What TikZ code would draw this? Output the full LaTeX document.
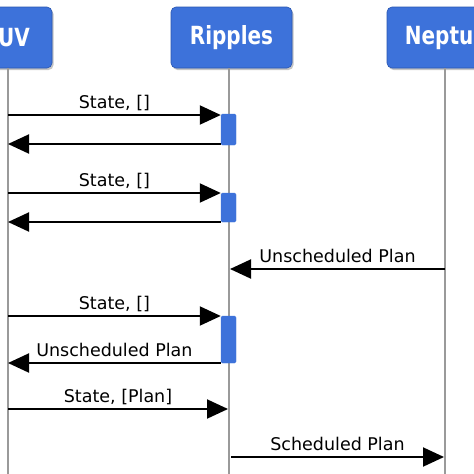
\documentclass[tikz,border=0pt]{standalone}
\usepackage{fontspec}
\setmainfont{DejaVu Sans}
\usetikzlibrary{arrows.meta,shadows}
\definecolor{hdr}{HTML}{3D72DA}
\definecolor{hdredge}{HTML}{2A56B0}
\definecolor{life}{HTML}{9A9A9A}
\tikzset{
 header/.style={draw=hdredge, line width=0.6pt, fill=hdr, rounded corners=5pt, text=white,
   font=\fontsize{20}{24}\selectfont\bfseries, minimum height=61pt, inner sep=0pt,
   drop shadow={shadow xshift=1.5pt,shadow yshift=-2pt,opacity=0.45}},
 htext/.style={text=white, font=\fontsize{20}{24}\selectfont\bfseries, inner sep=0pt},
 lifeline/.style={draw=life, line width=1.4pt},
 act/.style={fill=hdr, draw=hdr, rounded corners=1.5pt, minimum width=15pt, inner sep=0pt},
 msg/.style={draw=black, line width=2pt, -{Triangle[length=21pt,width=19pt]}},
 lbl/.style={font=\fontsize{17.5}{20}\selectfont, anchor=base, yshift=6.5pt, inner sep=0pt, text=black},
}
\begin{document}
\begin{tikzpicture}[x=1pt,y=-1pt]
\clip (0,0) rectangle (474,474);
\fill[white] (0,0) rectangle (474,474);
% headers
\node[header, minimum width=76pt] (uv) at (14,37.5) {\scalebox{1}[1.25]{UV}};
\node[header, minimum width=121pt] (rip) at (231.5,37.5) {\scalebox{1}[1.25]{Ripples}};
\node[header, minimum width=132pt] (nep) at (453,37.5) {\scalebox{1}[1.25]{Neptune}};
% lifelines
\coordinate (uvEnd) at (8,474);
\coordinate (ripEnd) at (229,474);
\coordinate (nepEnd) at (445,474);
\draw[lifeline] (uvEnd |- uv.south) -- (uvEnd);
\draw[lifeline] (ripEnd |- rip.south) -- (ripEnd);
\draw[lifeline] (nepEnd |- nep.south) -- (nepEnd);
% activations
\node[act, minimum height=31pt] (a1) at (228.5,129.5) {};
\node[act, minimum height=29pt] (a2) at (228.5,207.5) {};
\node[act, minimum height=47pt] (a3) at (228.5,339.5) {};
% message anchor points
\coordinate (p1) at (8,115);
\coordinate (p2) at (8,144);
\coordinate (p3) at (8,193);
\coordinate (p4) at (8,222);
\coordinate (p5) at (445,269);
\coordinate (q5) at (230,269);
\coordinate (p6) at (8,316);
\coordinate (p7) at (8,363);
\coordinate (p8) at (8,409);
\coordinate (q8) at (228,409);
\coordinate (p9) at (231,457);
\coordinate (q9) at (444,457);
% messages
\draw[msg] (p1) -- node[lbl]{State, []} (p1 -| a1.west);
\draw[msg] (p2 -| a1.west) -- (p2);
\draw[msg] (p3) -- node[lbl]{State, []} (p3 -| a2.west);
\draw[msg] (p4 -| a2.west) -- (p4);
\draw[msg] (p5) -- node[lbl]{Unscheduled Plan} (q5);
\draw[msg] (p6) -- node[lbl]{State, []} (p6 -| a3.west);
\draw[msg] (p7 -| a3.west) -- node[lbl]{Unscheduled Plan} (p7);
\draw[msg] (p8) -- node[lbl]{State, [Plan]} (q8);
\draw[msg] (p9) -- node[lbl]{Scheduled Plan} (q9);
\end{tikzpicture}
\end{document}
